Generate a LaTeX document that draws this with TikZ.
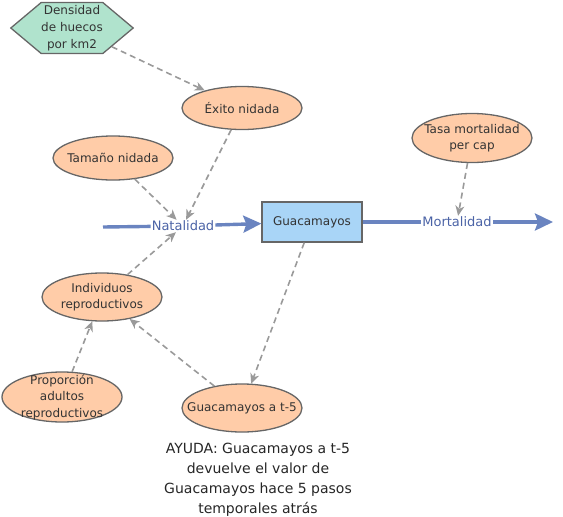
\documentclass[tikz,border=0pt]{standalone}
\usepackage{fontspec}
\setmainfont{DejaVu Sans}
\usepackage{tikz}
\usetikzlibrary{shapes, shapes.symbols, arrows, arrows.meta, positioning}
\definecolor{peach}{HTML}{FFCCA8}
\definecolor{mint}{HTML}{B0E3CD}
\definecolor{boxblue}{HTML}{A9D5F7}
\definecolor{flowblue}{HTML}{6A84C0}
\definecolor{labelblue}{HTML}{4B63A6}
\definecolor{edgegrey}{HTML}{666666}
\definecolor{linkgrey}{HTML}{9A9A9A}
\tikzstyle{auxVar}=[draw=edgegrey,line width=1.3pt,ellipse,fill=peach,inner sep=-30pt,minimum width=120pt,minimum height=46pt,align=center,text=black!80,font=\fontsize{12}{16.5}\selectfont]
\tikzstyle{stockBox}=[draw=edgegrey,line width=1.3pt,rectangle,fill=boxblue,minimum width=100pt,minimum height=40pt,text=black!80,font=\fontsize{12}{14}\selectfont]
\tikzstyle{paramHex}=[draw=edgegrey,line width=1.3pt,signal,signal to=east and west,signal pointer angle=80,fill=mint,inner xsep=0pt,inner ysep=1pt,minimum width=120pt,minimum height=51pt,align=center,text=black!80,font=\fontsize{12}{17}\selectfont]
\tikzstyle{flowLabel}=[text=labelblue,inner sep=1pt,font=\fontsize{13}{15}\selectfont]
\tikzstyle{flowPipe}=[flowblue,line width=3.4pt]
\tikzstyle{infoLink}=[linkgrey,line width=1.6pt,dash pattern=on 6pt off 4pt,-{Stealth[length=10pt,width=9pt,inset=3pt]}]

\begin{document}
\begin{tikzpicture}[x=1pt,y=-1pt]
    \useasboundingbox (0,0) rectangle (563,517);

    \node (densidad)[paramHex] at (72, 28) {Densidad\\de huecos\\por km2};
    \node (exito)[auxVar,minimum height=43pt] at (242, 108) {Éxito nidada};
    \node (tamano)[auxVar,minimum height=44pt] at (113, 158) {Tamaño nidada};
    \node (tasa)[auxVar,minimum height=49pt] at (472, 138) {Tasa mortalidad\\per cap};
    \node (guac)[stockBox] at (312, 222) {Guacamayos};
    \node (indiv)[auxVar,minimum height=48pt] at (102, 297) {Individuos\\reproductivos};
    \node (prop)[auxVar,minimum height=50pt] at (62, 397) {Proporción\\adultos\\reproductivos};
    \node (retardo)[auxVar,minimum height=48pt] at (242, 408) {Guacamayos a t-5};

    % flujos
    \coordinate (fuente) at (103, 227);
    \coordinate (sumidero) at (553, 222);
    \node (nat)[flowLabel] at (183, 226) {Natalidad};
    \node (mort)[flowLabel] at (457, 222) {Mortalidad};
    \draw[flowPipe] (fuente) -- (nat);
    \draw[flowPipe,-{Stealth[length=18pt,width=17pt,inset=3pt]}] (nat) -- (guac);
    \draw[flowPipe] (guac) -- (mort);
    \draw[flowPipe,-{Stealth[length=18pt,width=17pt,inset=3pt]}] (mort) -- (sumidero);

    \node (ayuda)[align=center,text=black!85,font=\fontsize{14}{20}\selectfont] at (258, 480) {AYUDA: Guacamayos a t-5\\devuelve el valor de\\Guacamayos hace 5 pasos\\temporales atrás};

    \draw[infoLink] (densidad) -- (exito);
    \draw[infoLink] (exito) -- (nat);
    \draw[infoLink] (tamano) -- (nat);
    \draw[infoLink] (indiv) -- (nat);
    \draw[infoLink] (tasa) -- (mort);
    \draw[infoLink] (guac) -- (retardo);
    \draw[infoLink] (retardo) -- (indiv);
    \draw[infoLink] (prop) -- (indiv);

\end{tikzpicture}
\end{document}
